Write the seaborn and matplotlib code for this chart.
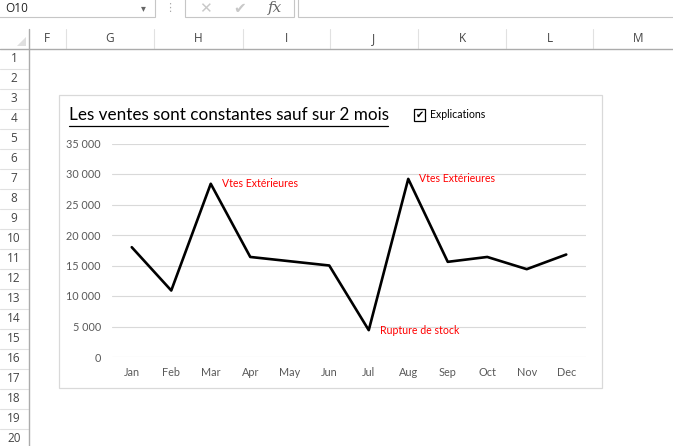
import numpy as np
import pandas as pd
import matplotlib
matplotlib.use("Agg")
import matplotlib.pyplot as plt
import seaborn as sns
from matplotlib.patches import Rectangle, Polygon
from matplotlib.ticker import FuncFormatter

months = ['Jan', 'Feb', 'Mar', 'Apr', 'May', 'Jun',
          'Jul', 'Aug', 'Sep', 'Oct', 'Nov', 'Dec']
sales = [18000, 10900, 28400, 16400, 15700, 15000,
         4400, 29200, 15600, 16400, 14400, 16800]
note_months = ['Mar', 'Jul', 'Aug']
note_texts = ['Vtes Extérieures', 'Rupture de stock', 'Vtes Extérieures']
y_ticks = [0, 5000, 10000, 15000, 20000, 25000, 30000, 35000]
col_names = ['F', 'G', 'H', 'I', 'J', 'K', 'L', 'M']
row_names = [str(i) for i in range(1, 21)]

title = "Les ventes sont constantes sauf sur 2 mois"
check_label = "Explications"

df = pd.DataFrame({'month': months, 'sales': sales})

sns.set_theme(style="white")
plt.rcParams['font.family'] = ['Lato', 'DejaVu Sans']

W, H = 673, 446
fig = plt.figure(figsize=(W / 100, H / 100), dpi=100)

# background "sheet" layer in pixel coordinates
bg = fig.add_axes([0, 0, 1, 1])
bg.set_xlim(0, W)
bg.set_ylim(H, 0)
bg.axis('off')

hdr_text = '#444444'

# formula bar
bg.add_patch(Rectangle((-2, -2), 157, 19, fc='white', ec='#c6c6c6', lw=0.8))
bg.text(5, 8, "O10", fontsize=8.5, color='#222222', va='center', family='Open Sans')
bg.text(143, 8, "▾", fontsize=7, color='#666666', va='center', ha='center', family='DejaVu Sans')
bg.text(170, 8, "⋮", fontsize=8, color='#aaaaaa', va='center', ha='center', family='DejaVu Sans')
bg.add_patch(Rectangle((185, -2), 109, 19, fc='white', ec='#c6c6c6', lw=0.8))
bg.text(205, 8.5, "✕", fontsize=11, color='#c8c8c8', va='center', ha='center', family='DejaVu Sans')
bg.text(240, 8.5, "✔", fontsize=11, color='#c8c8c8', va='center', ha='center', family='DejaVu Sans')
bg.text(275, 8, "fx", fontsize=11, color='#666666', va='center', ha='center',
        family='DejaVu Serif', style='italic')
bg.add_patch(Rectangle((298, -2), 400, 19, fc='white', ec='#c6c6c6', lw=0.8))

# column headers
col_edges = [28, 66, 154, 243, 330, 418, 506, 593, 690]
for i, name in enumerate(col_names):
    cx = (col_edges[i] + col_edges[i + 1]) / 2
    if name == 'M':
        cx = 638
    bg.text(cx, 39, name, fontsize=8.5, color=hdr_text, ha='center', va='center', family='Open Sans')
for x in col_edges[1:-1]:
    bg.plot([x, x], [29, 48], color='#e1e1e1', lw=0.8)
bg.plot([0, W], [48.5, 48.5], color='#ababab', lw=1.0)
bg.add_patch(Polygon([[26, 37], [26, 46], [17, 46]], closed=True, fc='#dfdfdf', ec='none'))

# row headers
for i, name in enumerate(row_names):
    top = 49 + 20 * i
    bg.text(14, top + 10, name, fontsize=8.5, color=hdr_text, ha='center', va='center',
            family='Open Sans')
    bg.plot([0, 28], [top + 20, top + 20], color='#e1e1e1', lw=0.8)
bg.plot([28.5, 28.5], [29, H], color='#ababab', lw=1.0)

# chart frame
bg.add_patch(Rectangle((59, 95), 543, 293, fc='white', ec='#d9d9d9', lw=0.9))
bg.text(69, 115.5, title, fontsize=12.3, color='black', va='center', ha='left')
bg.plot([69, 388], [125.5, 125.5], color='black', lw=0.9)

# checkbox
bg.add_patch(Rectangle((414, 109), 11, 12, fc='white', ec='black', lw=0.9))
bg.text(419.5, 115, "✔", fontsize=7, color='black', ha='center', va='center', family='DejaVu Sans')
bg.text(430, 115, check_label, fontsize=7.6, color='black', ha='left', va='center')

# plot area
left, right, top_px, bot_px = 112, 586, 143.5, 357
ax = fig.add_axes([left / W, (H - bot_px) / H, (right - left) / W, (bot_px - top_px) / H])
ax.patch.set_alpha(0)
sns.lineplot(data=df, x='month', y='sales', sort=False, color='black', lw=1.9, ax=ax)
ax.set_xlim(-0.5, len(months) - 0.5)
ax.set_ylim(0, 35000)
ax.set_yticks(y_ticks)
ax.yaxis.set_major_formatter(FuncFormatter(lambda v, p: f"{v:,.0f}".replace(",", " ")))
ax.grid(axis='y', color='#d9d9d9', lw=0.8)
ax.grid(axis='x', visible=False)
ax.set_axisbelow(True)
for s in ax.spines.values():
    s.set_visible(False)
ax.tick_params(axis='y', length=0, pad=8, labelsize=7.8, labelcolor='#595959')
ax.tick_params(axis='x', length=0, pad=7, labelsize=7.8, labelcolor='#595959')
ax.set_xlabel('')
ax.set_ylabel('')

for m, txt in zip(note_months, note_texts):
    i = months.index(m)
    ax.annotate(txt, xy=(i, sales[i]), xytext=(8, 0), textcoords='offset points',
                color='red', fontsize=7.6, ha='left', va='center')

fig.savefig("out.png", dpi=100)
